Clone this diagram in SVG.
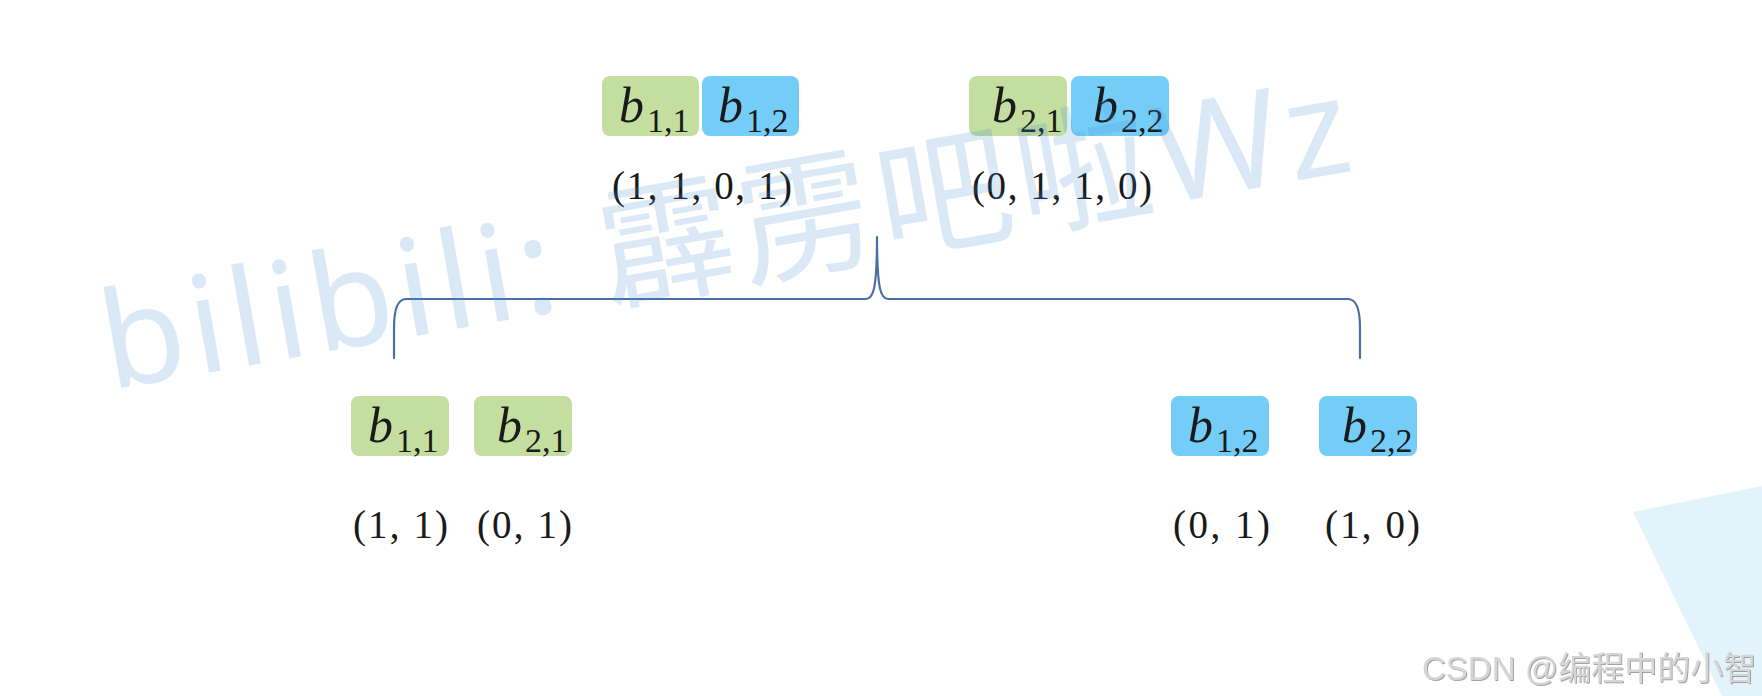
<svg xmlns="http://www.w3.org/2000/svg" width="1762" height="696" viewBox="0 0 1762 696">
  <defs>
    <style>
      .green { fill: #c4de9f; }
      .blue { fill: #74cdf7; }
      .b { font-family: "Liberation Serif", serif; font-style: italic; font-size: 50px; fill: #1a1a1a; }
      .sub { font-family: "Liberation Serif", serif; font-size: 34px; fill: #1a1a1a; }
      .tup { font-family: "Liberation Serif", serif; font-size: 39px; fill: #1a1a1a; }
      .brace { fill: none; stroke: #4a6fa8; stroke-width: 2.2; stroke-linecap: round; stroke-linejoin: round; }
      .wm { font-family: "Noto Sans", "Noto Sans CJK SC", sans-serif; font-size: 135px; fill: #4a90d9; fill-opacity: 0.2; }
      .csdn { font-family: "Liberation Sans", "Noto Sans CJK SC", sans-serif; font-size: 33px; fill: #d6d6d6; }
    </style>
    <filter id="shadow" x="-5%" y="-20%" width="110%" height="140%">
      <feDropShadow dx="1" dy="1" stdDeviation="0.6" flood-color="#8a8a8a" flood-opacity="0.8"/>
    </filter>
  </defs>

  <rect x="0" y="0" width="1762" height="696" fill="#ffffff"/>
  <polygon points="1633,512 1762,486 1762,696 1722,696" fill="#e2f3fc"/>

  <g id="top-left">
    <rect class="green" x="602" y="76" width="97" height="60" rx="8"/>
    <text class="b" x="619" y="122">b</text>
    <text class="sub" x="647" y="132">1,1</text>
    <rect class="blue" x="702" y="76" width="97" height="60" rx="8"/>
    <text class="b" x="718" y="122">b</text>
    <text class="sub" x="746" y="132">1,2</text>
    <text class="tup" x="612" y="199" textLength="180" lengthAdjust="spacing">(1, 1, 0, 1)</text>
  </g>

  <g id="top-right">
    <rect class="green" x="969" y="76" width="98" height="60" rx="8"/>
    <text class="b" x="992" y="122">b</text>
    <text class="sub" x="1020" y="132">2,1</text>
    <rect class="blue" x="1071" y="76" width="98" height="60" rx="8"/>
    <text class="b" x="1093" y="122">b</text>
    <text class="sub" x="1121" y="132">2,2</text>
    <text class="tup" x="972" y="199" textLength="180" lengthAdjust="spacing">(0, 1, 1, 0)</text>
  </g>

  <g id="bottom-b11">
    <rect class="green" x="351" y="396" width="98" height="60" rx="8"/>
    <text class="b" x="368" y="442">b</text>
    <text class="sub" x="396" y="452">1,1</text>
    <text class="tup" x="353" y="538" textLength="95" lengthAdjust="spacing">(1, 1)</text>
  </g>

  <g id="bottom-b21">
    <rect class="green" x="474" y="396" width="98" height="60" rx="8"/>
    <text class="b" x="497" y="442">b</text>
    <text class="sub" x="525" y="452">2,1</text>
    <text class="tup" x="477" y="538" textLength="95" lengthAdjust="spacing">(0, 1)</text>
  </g>

  <g id="bottom-b12">
    <rect class="blue" x="1171" y="396" width="98" height="60" rx="8"/>
    <text class="b" x="1188" y="442">b</text>
    <text class="sub" x="1216" y="452">1,2</text>
    <text class="tup" x="1173" y="538" textLength="97" lengthAdjust="spacing">(0, 1)</text>
  </g>

  <g id="bottom-b22">
    <rect class="blue" x="1319" y="396" width="98" height="60" rx="8"/>
    <text class="b" x="1342" y="442">b</text>
    <text class="sub" x="1370" y="452">2,2</text>
    <text class="tup" x="1325" y="538" textLength="95" lengthAdjust="spacing">(1, 0)</text>
  </g>

  <g id="connectors">
    <path class="brace" d="M394,358 L394,328 Q394,299 406,299 L866,299 C873,299 877,290 877,237 C877,290 881,299 888,299 L1348,299 Q1360,299 1360,328 L1360,358"/>
  </g>

  <text class="wm" x="110" y="390" transform="rotate(-10 110 390)" textLength="1265" lengthAdjust="spacing">bilibili: 霹雳吧啦Wz</text>

  <text class="csdn" x="1422" y="680" filter="url(#shadow)">CSDN @编程中的小智</text>
</svg>
